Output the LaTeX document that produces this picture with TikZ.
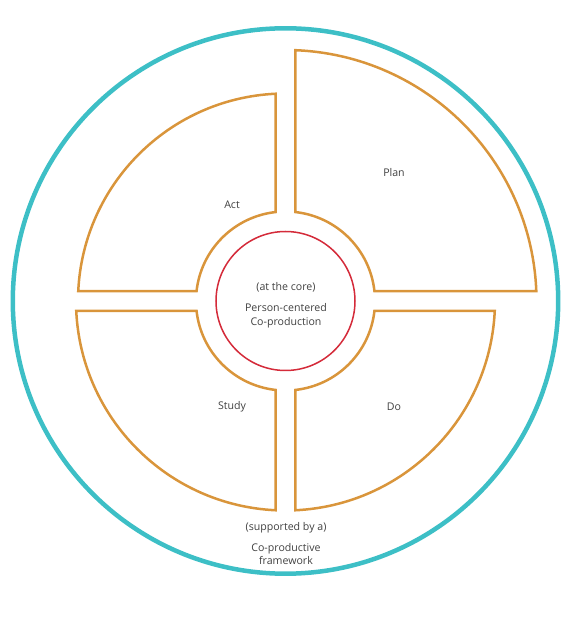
\documentclass[tikz,border=0pt]{standalone}
\usepackage{fontspec}
\setmainfont{Open Sans}
\definecolor{frameteal}{HTML}{3DBFC6}
\definecolor{phaseorange}{HTML}{D9953B}
\definecolor{corered}{HTML}{D42B3A}
\definecolor{textgray}{HTML}{404040}
\begin{document}
\begin{tikzpicture}[x=1pt, y=1pt,
  phase/.style={draw=phaseorange, line width=2.5pt, line join=miter},
  phasetext/.style={text=textgray, font=\fontsize{10.6}{13.5}\selectfont, align=center, inner sep=0pt}]
\useasboundingbox (-285.5,-319) rectangle (280.5,301);

% Define the centre of the cycle
\coordinate (O) at (0,0);

% Draw the outer framework circle
\draw[frameteal, line width=4.5pt] (O) circle (272.7);

% Draw the four phases (start angle / outer radius), gap 10, inner radius 89.5
\foreach \s/\R in {0/251, 90/207.5, 180/209.5, 270/209.5} {
  \pgfmathsetmacro{\a}{asin(10/\R)}
  \pgfmathsetmacro{\b}{asin(10/89.5)}
  \draw[phase] ({\s+\a}:\R) arc[start angle={\s+\a}, end angle={\s+90-\a}, radius=\R]
    -- ({\s+90-\b}:89.5) arc[start angle={\s+90-\b}, end angle={\s+\b}, radius=89.5] -- cycle;
}

% Draw the core circle
\draw[corered, line width=1.5pt] (O) circle (69.5);

% Name the phases
\node[phasetext] (act) at (-53.5,96) {Act};
\node[phasetext] (plan) at (108.5,128) {Plan};
\node[phasetext] (study) at (-53.5,-106) {Study};
\node[phasetext] (do) at (108.5,-106) {Do};

% Core and framework texts
\node[phasetext] (core-note) at (0.5,14) {(at the core)};
\node[phasetext] (core) at (0.5,-14.5) {Person-centered\\Co-production};
\node[phasetext] (frame-note) at (0.5,-227) {(supported by a)};
\node[phasetext] (frame) at (0.5,-253) {Co-productive\\framework};
\end{tikzpicture}
\end{document}
